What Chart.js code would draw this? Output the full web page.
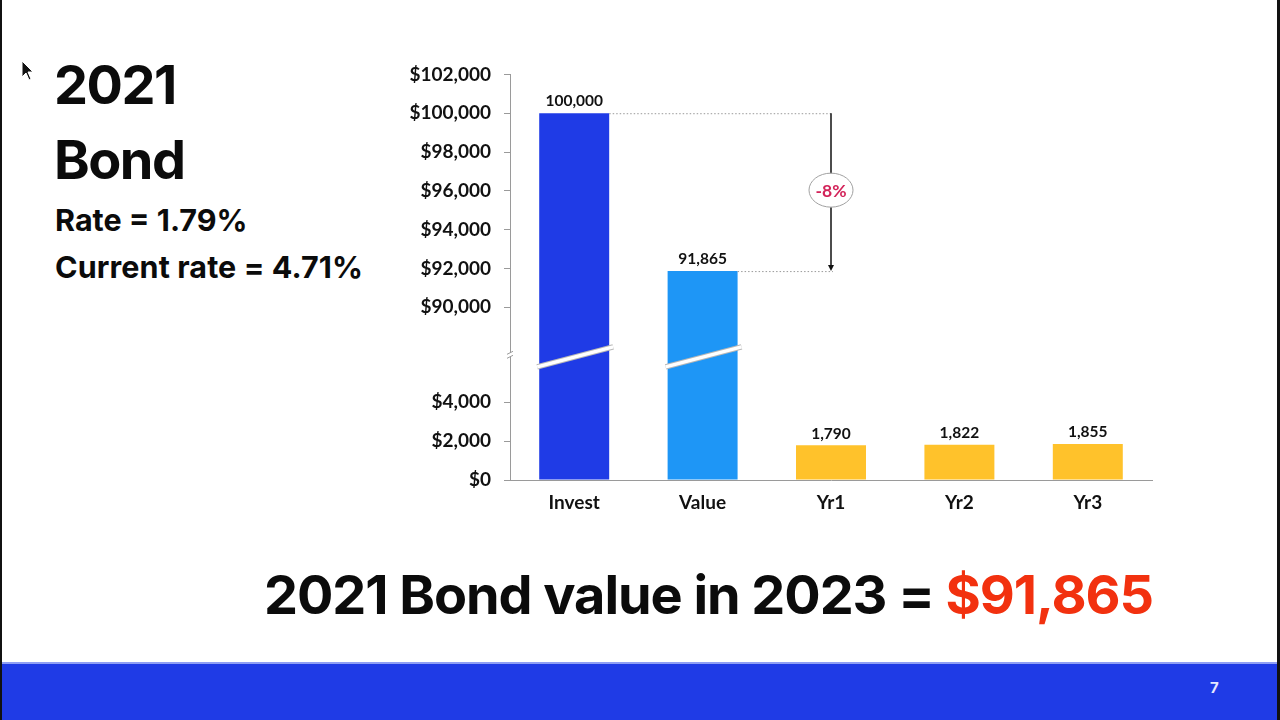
<!DOCTYPE html>
<html>
<head>
<meta charset="utf-8">
<script src="https://cdn.jsdelivr.net/npm/chart.js@4.4.1/dist/chart.umd.min.js"></script>
<style>
  html, body { margin: 0; padding: 0; }
  body { width: 1280px; height: 720px; position: relative; overflow: hidden; background: #fff; font-family: Inter, "Noto Sans", sans-serif; }
  .edgeL { position: absolute; left: 0; top: 0; width: 2px; height: 720px; background: #111; }
  .edgeR { position: absolute; right: 0; top: 0; width: 3px; height: 720px; background: #111; }
  .t { position: absolute; font-weight: 700; color: #0b0b0b; white-space: nowrap; }
  #y2021 { left: 54px; top: 52px; font-size: 54px; letter-spacing: -1.5px; }
  #bond { left: 54px; top: 127px; font-size: 54px; letter-spacing: -1.5px; }
  #rate { left: 55px; top: 201px; font-size: 30.5px; letter-spacing: 0px; }
  #cur { left: 55px; top: 248px; font-size: 30.5px; letter-spacing: 0.1px; }
  #bottom { left: 264px; top: 562px; font-size: 54px; letter-spacing: -1.05px; }
  #bottom span { color: #F2310F; }
  .band { position: absolute; left: 2px; right: 3px; top: 662px; height: 58px; background: #1F3BE6; border-top: 2px solid #8f9ff5; box-sizing: border-box; }
  #page { position: absolute; left: 1210px; top: 678px; font-size: 15px; font-weight: 700; color: #e4e8ff; }
  #wrap { position: absolute; left: 400px; top: 50px; width: 770px; height: 480px; }
  #cursor { position: absolute; left: 21px; top: 60px; }
</style>
</head>
<body>
<div class="edgeL"></div>
<div class="edgeR"></div>
<svg id="cursor" width="14" height="22" viewBox="0 0 14 22"><path d="M1 1 L1 17 L5 13 L8 20 L10 19 L7 12 L12 12 Z" fill="#111" stroke="#fff" stroke-width="1"/></svg>
<div class="t" id="y2021">2021</div>
<div class="t" id="bond">Bond</div>
<div class="t" id="rate">Rate = 1.79%</div>
<div class="t" id="cur">Current rate = 4.71%</div>
<div id="wrap"><canvas id="c"></canvas></div>
<div class="t" id="bottom">2021 Bond value in 2023 = <span>$91,865</span></div>
<div class="band"></div>
<div id="page">7</div>
<script>
// ---- data ----
const categories = ['Invest', 'Value', 'Yr1', 'Yr2', 'Yr3'];
const values = [100000, 91865, 1790, 1822, 1855];
const lowTicks = [0, 2000, 4000];
const highTicks = [90000, 92000, 94000, 96000, 98000, 100000, 102000];
const changeLabel = '-8%';

// ---- broken axis mapping ----
const BREAK_LOW = 5000;     // values up to here are drawn as-is
const BREAK_OFFSET = 81100; // values above are shifted down by this
const toDisplay = v => (v > BREAK_LOW ? v - BREAK_OFFSET : v);
const fromDisplay = d => (d > BREAK_LOW ? d + BREAK_OFFSET : d);

// ---- styles ----
const BAR_COLORS = ['#1F3BE6', '#1E96F6', '#FFC22B', '#FFC22B', '#FFC22B'];
const AXIS_COLOR = '#9a9a9a';
const FONT_FAMILY = 'Lato, "Open Sans", sans-serif';

const allTicks = lowTicks.concat(highTicks).map(toDisplay);

const brokenAxisPlugin = {
  id: 'brokenAxis',
  afterDatasetsDraw(chart) {
    const ctx = chart.ctx;
    const x = chart.scales.x, y = chart.scales.y;
    const yBreak = y.getPixelForValue((toDisplay(lowTicks[lowTicks.length - 1]) + toDisplay(highTicks[0])) / 2);
    const meta = chart.getDatasetMeta(0);
    ctx.save();
    // breaks across the tall bars
    meta.data.forEach((bar, i) => {
      if (values[i] <= BREAK_LOW) return;
      const half = bar.width / 2;
      const x1 = bar.x - half - 2, x2 = bar.x + half + 4;
      const y1 = yBreak + 12, y2 = yBreak - 8;
      ctx.lineCap = 'butt';
      ctx.strokeStyle = '#b8b8b8';
      ctx.lineWidth = 5.5;
      ctx.beginPath(); ctx.moveTo(x1, y1); ctx.lineTo(x2, y2); ctx.stroke();
      ctx.strokeStyle = '#ffffff';
      ctx.lineWidth = 3.5;
      ctx.beginPath(); ctx.moveTo(x1, y1); ctx.lineTo(x2, y2); ctx.stroke();
    });
    // break on the axis line
    const ax = chart.chartArea.left;
    ctx.fillStyle = '#fff';
    ctx.fillRect(ax - 2, yBreak - 2, 4, 4);
    ctx.strokeStyle = AXIS_COLOR;
    ctx.lineWidth = 1;
    [-2, 2].forEach(dy => {
      ctx.beginPath();
      ctx.moveTo(ax - 3, yBreak + dy + 1.5);
      ctx.lineTo(ax + 3, yBreak + dy - 1.5);
      ctx.stroke();
    });

    // value labels
    ctx.fillStyle = '#111';
    ctx.font = 'bold 15.5px ' + FONT_FAMILY;
    ctx.textAlign = 'center';
    ctx.textBaseline = 'bottom';
    meta.data.forEach((bar, i) => {
      ctx.fillText(values[i].toLocaleString('en-US'), bar.x, bar.y - 4);
    });

    // change annotation between first two bars
    const b0 = meta.data[0], b1 = meta.data[1];
    const ax2 = x.getPixelForValue(2);
    ctx.setLineDash([1.5, 2]);
    ctx.strokeStyle = '#9a9a9a';
    ctx.lineWidth = 1;
    ctx.beginPath();
    ctx.moveTo(b0.x + b0.width / 2, b0.y + 0.5); ctx.lineTo(ax2 + 2, b0.y + 0.5);
    ctx.moveTo(b1.x + b1.width / 2, b1.y + 0.5); ctx.lineTo(ax2 + 2, b1.y + 0.5);
    ctx.stroke();
    ctx.setLineDash([]);
    ctx.strokeStyle = '#111';
    ctx.lineWidth = 1.5;
    ctx.beginPath(); ctx.moveTo(ax2, b0.y); ctx.lineTo(ax2, b1.y - 4); ctx.stroke();
    ctx.fillStyle = '#111';
    ctx.beginPath(); ctx.moveTo(ax2 - 3, b1.y - 6); ctx.lineTo(ax2 + 3, b1.y - 6); ctx.lineTo(ax2, b1.y); ctx.closePath(); ctx.fill();
    const my = (b0.y + b1.y) / 2 - 2;
    ctx.fillStyle = '#fff';
    ctx.strokeStyle = '#a0a0a0';
    ctx.lineWidth = 1;
    ctx.beginPath(); ctx.ellipse(ax2, my, 22, 17, 0, 0, Math.PI * 2); ctx.fill(); ctx.stroke();
    ctx.fillStyle = '#D3245A';
    ctx.font = 'bold 17.5px ' + FONT_FAMILY;
    ctx.textBaseline = 'middle';
    ctx.fillText(changeLabel, ax2, my + 1);
    ctx.restore();
  }
};

new Chart(document.getElementById('c'), {
  type: 'bar',
  data: {
    labels: categories,
    datasets: [{
      data: values.map(toDisplay),
      backgroundColor: BAR_COLORS,
      borderWidth: 0,
      barPercentage: 0.545,
      categoryPercentage: 1
    }]
  },
  options: {
    responsive: true,
    maintainAspectRatio: false,
    animation: false,
    layout: { padding: { top: 24, right: 18, left: 0, bottom: 0 } },
    plugins: { legend: { display: false }, tooltip: { enabled: false } },
    scales: {
      x: {
        grid: { display: false },
        border: { display: true, color: AXIS_COLOR, width: 1 },
        ticks: { color: '#111', font: { family: FONT_FAMILY, size: 19, weight: 'bold' }, padding: 3 },
        afterFit(s) { s.height = 50; }
      },
      y: {
        min: 0,
        max: toDisplay(highTicks[highTicks.length - 1]),
        grid: { display: true, drawOnChartArea: false, drawTicks: true, tickLength: 6, color: AXIS_COLOR },
        border: { display: true, color: AXIS_COLOR, width: 1 },
        afterBuildTicks(s) { s.ticks = allTicks.map(v => ({ value: v })); },
        ticks: {
          color: '#111',
          font: { family: FONT_FAMILY, size: 19, weight: 'bold' },
          padding: 13,
          callback: v => '$' + Math.round(fromDisplay(v)).toLocaleString('en-US')
        },
        afterFit(s) { s.width = 110; }
      }
    }
  },
  plugins: [brokenAxisPlugin]
});
</script>
</body>
</html>
